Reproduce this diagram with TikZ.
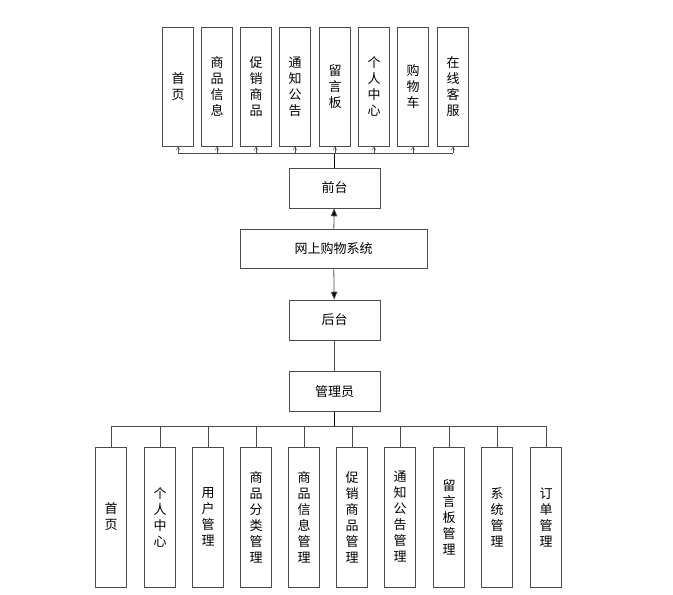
\documentclass[tikz,border=0pt]{standalone}
\usepackage{fontspec}
\setmainfont{Noto Sans CJK SC}
\usetikzlibrary{arrows}
\tikzset{box/.style={draw=black!70, thick, fill=white, inner sep=0pt, align=center, font=\fontsize{13}{16}\selectfont},
	col/.style={box, minimum width=31pt},
	wide/.style={box, minimum width=91pt, minimum height=40pt}}
\begin{document}
\begin{tikzpicture}[x=1pt,y=-1pt]
	\useasboundingbox (0,0) rectangle (673,595);
		\node[wide] (F) at (334.5,188) {前台};
		\node[box, minimum width=187pt, minimum height=39pt] (S) at (333.5,248.5) {网上购物系统};
		\node[wide] (B) at (334.5,320) {后台};
		\node[wide] (M) at (334.5,391.5) {管理员};
		\coordinate (T) at (334.5,153);
		\coordinate (U) at (334.5,426);
		% front
		\foreach \x/\t [count=\i] in {178/首\\页, 217/商\\品\\信\\息, 256/促\\销\\商\\品, 295/通\\知\\公\\告, 335/留\\言\\板, 374/个\\人\\中\\心, 413/购\\物\\车, 453/在\\线\\客\\服} {
			\node[col, minimum height=119pt] (f\i) at (\x,86.5) {\t};
			\draw[black!70, ->, >=angle 60] (\x,153) -- (f\i.south);
		}
		\draw[black!70] (f1.south |- T) -- (f8.south |- T);
		\draw[very thick] (F) -- (T);
		\draw[black!70, thick] (f1.south |- T) -- (f8.south |- T);
		\path [->, >=triangle 45, thick, draw=black!70] (S) edge (F);
		\path [->, >=triangle 45, thick, draw=black!70] (S) edge (B);
		\draw[black!70, thick] (B) -- (M);
		% back
		\foreach \x/\t [count=\i] in {111/首\\页, 160/个\\人\\中\\心, 208/用\\户\\管\\理, 256/商\\品\\分\\类\\管\\理, 304/商\\品\\信\\息\\管\\理, 352/促\\销\\商\\品\\管\\理, 400/通\\知\\公\\告\\管\\理, 449/留\\言\\板\\管\\理, 497/系\\统\\管\\理, 546/订\\单\\管\\理} {
			\node[col, minimum height=140pt] (b\i) at (\x,517) {\t};
			\draw[black!70] (b\i.north |- U) -- (b\i.north);
		}
		\draw[black!70] (b1.north |- U) -- (b10.north |- U);
		\draw[very thick] (M) -- (U);
\end{tikzpicture}
\end{document}
